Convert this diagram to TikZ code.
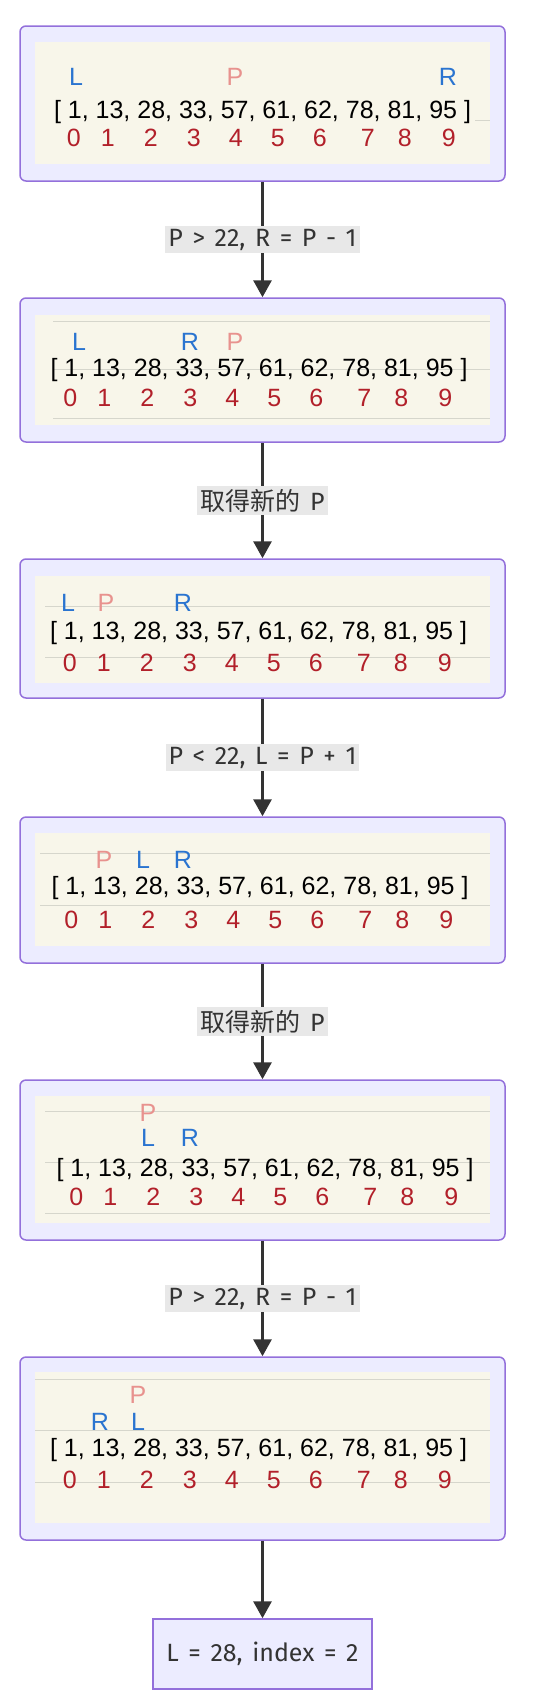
\documentclass[tikz,border=0pt]{standalone}
\usepackage{fontspec}
\setmainfont{Liberation Sans}
\newfontfamily\labelfont[WordSpace=1.45]{Fira Sans}
\newfontfamily\cjk{Noto Sans CJK SC}
\usetikzlibrary{positioning}
\usetikzlibrary{arrows.meta}

\definecolor{stagefill}{HTML}{ECECFF}
\definecolor{stageline}{HTML}{9370DB}
\definecolor{sheetfill}{HTML}{F8F6EA}
\definecolor{rulegray}{HTML}{D6D6CC}
\definecolor{idxred}{HTML}{B2202A}
\definecolor{ptrblue}{HTML}{2A74D0}
\definecolor{ptrpink}{HTML}{E8928E}
\definecolor{ink}{HTML}{333333}
\definecolor{condfill}{HTML}{E8E8E8}

\newcommand{\idxrow}[2]{%
	\foreach \dx [count=\i from 0] in {20,54,97,140,182,224,266,314,351,395}
		\node [idx] at ([xshift=\dx pt, yshift=-#2 pt]#1.west) {\i};}

\begin{document}
\begin{tikzpicture}[x=1pt, y=-1pt,
	stage/.style={draw=stageline, fill=stagefill, line width=1.5pt, rounded corners=6pt, minimum width=485pt},
	sheet/.style={fill=sheetfill, minimum width=455pt},
	rule/.style={draw=rulegray, line width=0.8pt},
	cell/.style={inner sep=0pt, font=\fontsize{25}{30}\selectfont},
	idx/.style={cell, text=idxred},
	lr/.style={cell, text=ptrblue},
	pp/.style={cell, text=ptrpink},
	cond/.style={fill=condfill, text=ink, inner sep=3pt, font=\labelfont\fontsize{25}{30}\selectfont},
	flow/.style={draw=ink, line width=3pt, -{Triangle[length=17pt,width=18pt]}},
	result/.style={draw=stageline, fill=stagefill, line width=1.5pt, minimum width=219pt, minimum height=70pt, text=ink, font=\labelfont\fontsize{25}{30}\selectfont}]
	\useasboundingbox (0,0) rectangle (552,1706);

	\node [stage, minimum height=155pt] (s1) at (262.5,103.5) {};
	\node [sheet, minimum height=122pt] (in1) at (262.5,103) {};
	\draw [rule] (475,120) -- (490,120);
	\node [cell] (arr1) at (262.5,112) {[ 1, 13, 28, 33, 57, 61, 62, 78, 81, 95 ]};
	\idxrow{arr1}{26}
	\node [lr] (L1) at (76,77) {L};
	\node [pp] (P1) at (235,77) {P};
	\node [lr] (R1) at (448,77) {R};

	\node [stage, minimum height=144pt] (s2) at (262.5,370) {};
	\node [sheet, minimum height=110pt] (in2) at (262.5,370) {};
	\draw [rule] (53,321) -- (490,321);
	\draw [rule] (53,369) -- (490,369);
	\draw [rule] (53,418) -- (490,418);
	\node [cell] (arr2) at (259,370) {[ 1, 13, 28, 33, 57, 61, 62, 78, 81, 95 ]};
	\idxrow{arr2}{28}
	\node [lr] (L2) at (79,342) {L};
	\node [lr] (R2) at (190,342) {R};
	\node [pp] (P2) at (235,342) {P};

	\node [stage, minimum height=139pt] (s3) at (262.5,628.5) {};
	\node [sheet, minimum height=107pt] (in3) at (262.5,629.5) {};
	\draw [rule] (45,606) -- (490,606);
	\draw [rule] (45,657) -- (490,657);
	\node [cell] (arr3) at (258.5,633) {[ 1, 13, 28, 33, 57, 61, 62, 78, 81, 95 ]};
	\idxrow{arr3}{30}
	\node [lr] (L3) at (68,603) {L};
	\node [pp] (P3) at (106,603) {P};
	\node [lr] (R3) at (183,603) {R};

	\node [stage, minimum height=146pt] (s4) at (262.5,890) {};
	\node [sheet, minimum height=113pt] (in4) at (262.5,889.5) {};
	\draw [rule] (40,853) -- (490,853);
	\draw [rule] (40,905) -- (490,905);
	\node [cell] (arr4) at (260,888) {[ 1, 13, 28, 33, 57, 61, 62, 78, 81, 95 ]};
	\idxrow{arr4}{32}
	\node [pp] (P4) at (104,860) {P};
	\node [lr] (L4) at (143,860) {L};
	\node [lr] (R4) at (183,860) {R};

	\node [stage, minimum height=160pt] (s5) at (262.5,1160) {};
	\node [sheet, minimum height=127pt] (in5) at (262.5,1159.5) {};
	\draw [rule] (45,1111) -- (490,1111);
	\draw [rule] (45,1162) -- (490,1162);
	\draw [rule] (45,1213) -- (490,1213);
	\node [cell] (arr5) at (265,1170) {[ 1, 13, 28, 33, 57, 61, 62, 78, 81, 95 ]};
	\idxrow{arr5}{27}
	\node [pp] (P5) at (148,1113) {P};
	\node [lr] (L5) at (148,1138) {L};
	\node [lr] (R5) at (190,1138) {R};

	\node [stage, minimum height=183pt] (s6) at (262.5,1448.5) {};
	\node [sheet, minimum height=151pt] (in6) at (262.5,1447.5) {};
	\draw [rule] (35,1379) -- (490,1379);
	\draw [rule] (35,1430) -- (490,1430);
	\draw [rule] (35,1482) -- (490,1482);
	\node [cell] (arr6) at (258.5,1450) {[ 1, 13, 28, 33, 57, 61, 62, 78, 81, 95 ]};
	\idxrow{arr6}{30}
	\node [pp] (P6) at (138,1395) {P};
	\node [lr] (R6) at (100,1422) {R};
	\node [lr] (L6) at (138,1422) {L};

	\node [result] (res) at (262.5,1654) {L = 28, index = 2};

	\draw [flow] (s1) -- node [cond] {P > 22, R = P - 1} (s2);
	\draw [flow] (s2) -- node [cond] {{\cjk 取得新的} P} (s3);
	\draw [flow] (s3) -- node [cond] {P < 22, L = P + 1} (s4);
	\draw [flow] (s4) -- node [cond] {{\cjk 取得新的} P} (s5);
	\draw [flow] (s5) -- node [cond] {P > 22, R = P - 1} (s6);
	\draw [flow] (s6) -- (res);
\end{tikzpicture}
\end{document}
